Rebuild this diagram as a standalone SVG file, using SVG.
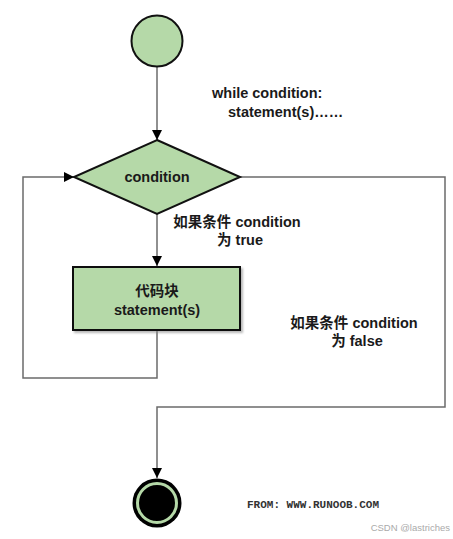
<svg xmlns="http://www.w3.org/2000/svg" width="453" height="539" viewBox="0 0 453 539">
<style>
.t{font-family:"Liberation Sans",Arial,"Noto Sans CJK SC",sans-serif;font-weight:bold;font-size:14.5px;fill:#1a1a1a}
.c{fill:none;stroke:#6b6b6b;stroke-width:1.5}
.n{fill:#b5d9a8;stroke:#111;stroke-width:2}
</style>
<defs>
<marker id="a" viewBox="0 0 10 10" refX="10" refY="5" markerWidth="10" markerHeight="10" markerUnits="userSpaceOnUse" orient="auto">
<path d="M0,0 L10,5 L0,10 z" fill="#000"/>
</marker>
<filter id="s" x="-10%" y="-10%" width="130%" height="130%"><feDropShadow dx="2" dy="2" stdDeviation="1" flood-color="#888" flood-opacity="0.6"/></filter>
</defs>
<rect width="453" height="539" fill="#fff"/>
<g id="connectors">
<path class="c" d="M157,67 V140" marker-end="url(#a)"/>
<path class="c" d="M157,214 V266" marker-end="url(#a)"/>
<path class="c" d="M157,331 V378 H23 V177 H74" marker-end="url(#a)"/>
<path class="c" d="M240,177 H445 V407 H157 V478" marker-end="url(#a)"/>
</g>
<g id="start"><circle class="n" cx="157" cy="41" r="25.5"/></g>
<g id="note"><text class="t" x="212" y="98">while condition:</text><text class="t" x="228" y="117">statement(s)……</text></g>
<g id="cond"><polygon class="n" points="157,140 240,177 157,214 74,177"/><text class="t" x="157" y="182" text-anchor="middle">condition</text></g>
<g id="true-label"><text class="t" x="237" y="227" text-anchor="middle">如果条件 condition</text><text class="t" x="240" y="245" text-anchor="middle">为 true</text></g>
<g id="block"><rect class="n" x="73" y="267" width="167" height="63" filter="url(#s)"/><text class="t" x="157" y="296" text-anchor="middle">代码块</text><text class="t" x="157" y="315" text-anchor="middle">statement(s)</text></g>
<g id="false-label"><text class="t" x="354" y="328" text-anchor="middle">如果条件 condition</text><text class="t" x="357" y="346" text-anchor="middle">为 false</text></g>
<g id="end"><circle cx="157" cy="503" r="24.5" fill="#000"/><circle cx="157" cy="503" r="19.5" fill="none" stroke="#b5d9a8" stroke-width="3"/></g>
<text x="247" y="508" font-family="'Liberation Mono','Courier New',monospace" font-size="11" font-weight="bold" fill="#333">FROM: WWW.RUNOOB.COM</text>
<text x="450" y="531" text-anchor="end" font-family="'Liberation Sans',Arial,sans-serif" font-size="9.5" fill="#aaa">CSDN @lastriches</text>
</svg>
